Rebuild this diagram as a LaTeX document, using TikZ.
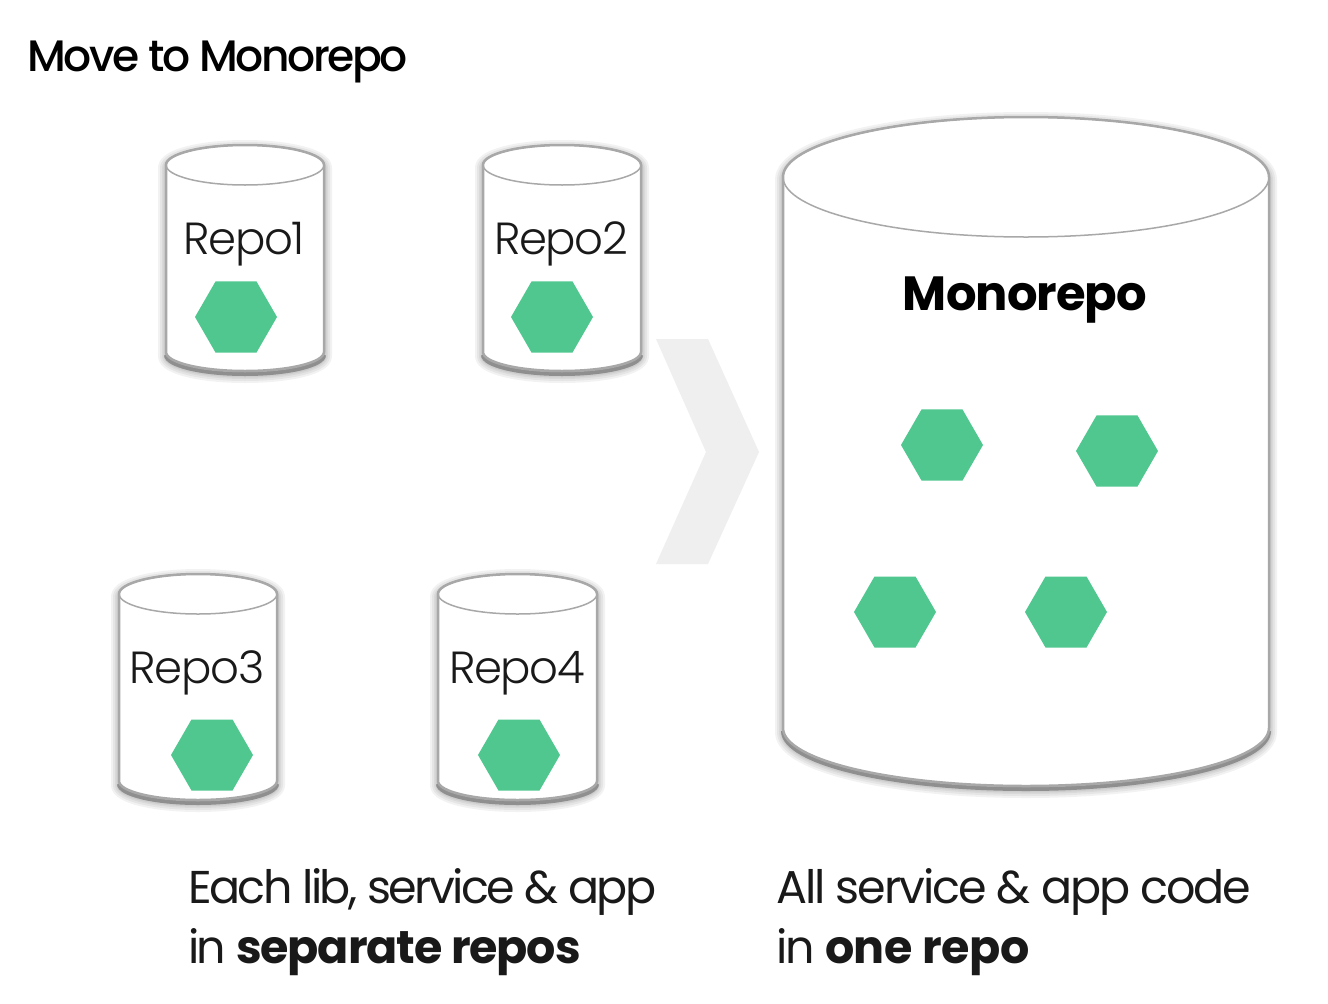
\documentclass[tikz,border=0pt]{standalone}
\usepackage{fontspec}
\setmainfont{Poppins}
\newfontfamily\lightfont{Poppins Light}
\newfontfamily\midfont{Poppins Medium}
\usetikzlibrary{shapes.geometric}

\definecolor{hexgreen}{HTML}{4FC78F}
\definecolor{chevgray}{HTML}{EFEFEF}
\definecolor{rimgray}{HTML}{A8A8A8}

\newcommand{\strongtext}[2]{{\bfseries\addfontfeatures{LetterSpace=#1}#2}}

\tikzset{
  hexnode/.style={regular polygon, regular polygon sides=6, fill=hexgreen, minimum size=82pt, inner sep=0pt},
  repolabel/.style={font=\lightfont\fontsize{45}{45}\selectfont\addfontfeatures{LetterSpace=-3}, text=black!90},
  caption/.style={font=\fontsize{46}{60}\selectfont\addfontfeatures{LetterSpace=#1}, align=left, anchor=north west, inner sep=0pt, text=black!90}
}

% left x, right x, top-ellipse centre y, side bottom y, top ry, bottom ry
\newcommand{\repocyl}[6]{%
  \foreach \w in {16,12,8,5} {
    \draw[black, opacity=0.05, line width=\w pt, line join=round]
      (#1,#3+3) -- (#1,#4+4) arc[start angle=180, end angle=0, x radius={(#2-#1)/2}, y radius=#6] -- (#2,#3+3)
      arc[start angle=0, end angle=-180, x radius={(#2-#1)/2}, y radius=#5] -- cycle;
  }
  \draw[black, opacity=0.3, line width=4pt]
    (#1,#4+3) arc[start angle=180, end angle=0, x radius={(#2-#1)/2}, y radius=#6];
  \draw[rimgray, line width=2.5pt, fill=white]
    (#1,#3) -- (#1,#4) arc[start angle=180, end angle=0, x radius={(#2-#1)/2}, y radius=#6] -- (#2,#3)
    arc[start angle=0, end angle=-180, x radius={(#2-#1)/2}, y radius=#5] -- cycle;
  \draw[rimgray, line width=1.5pt] (#1,#3) arc[start angle=180, end angle=-180, x radius={(#2-#1)/2}, y radius=#5];
}

\begin{document}
\begin{tikzpicture}[x=1pt, y=-1pt]
\useasboundingbox (0,0) rectangle (1328,1004);
\fill[white] (0,0) rectangle (1328,1004);

% Title
\node (title) [anchor=west, inner sep=0pt, font=\midfont\fontsize{44}{44}\selectfont\addfontfeatures{LetterSpace=-5.5}, text=black] at (27,62) {Move to Monorepo};

% Arrow between both sides
\fill[chevgray] (656,339) -- (708,339) -- (759,452) -- (708,564) -- (656,564) -- (706,452) -- cycle;

% Separate repos
\repocyl{166}{324}{165}{352}{20}{19}
\repocyl{483}{641}{165}{352}{20}{19}
\repocyl{119}{277}{594}{781}{20}{19}
\repocyl{438}{597}{594}{781}{20}{19}

\node (repo1) [repolabel] at (244,244) {Repo1};
\node (repo2) [repolabel] at (561,244) {Repo2};
\node (repo3) [repolabel] at (197,673) {Repo3};
\node (repo4) [repolabel] at (517,673) {Repo4};

\node (hex1) [hexnode] at (236,317) {};
\node (hex2) [hexnode] at (552,317) {};
\node (hex3) [hexnode] at (212,755) {};
\node (hex4) [hexnode] at (519,755) {};

% One repo
\repocyl{783}{1269}{177}{728}{60}{58}
\node (mono) [font=\fontsize{48}{48}\selectfont\bfseries\addfontfeatures{LetterSpace=-2}, text=black] at (1025,300) {Monorepo};

\node (hex5) [hexnode] at (942,445) {};
\node (hex6) [hexnode] at (1117,451) {};
\node (hex7) [hexnode] at (895,612) {};
\node (hex8) [hexnode] at (1066,612) {};

% Captions
\node (capleft) [caption=-5.6] at (188,868) {Each lib, service \& app\\in \strongtext{-2.5}{separate repos}};
\node (capright) [caption=-4.5] at (776,868) {All service \& app code\\in \strongtext{-1}{one repo}};
\end{tikzpicture}
\end{document}
